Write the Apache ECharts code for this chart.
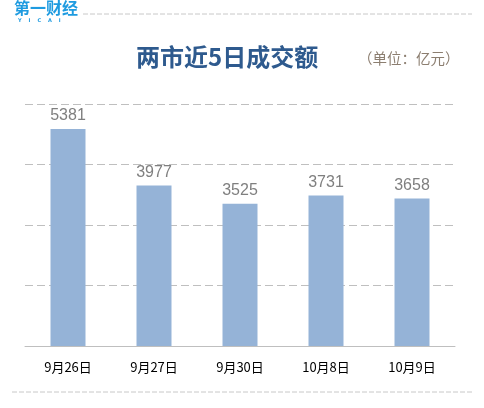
<!DOCTYPE html>
<html>
<head>
<meta charset="utf-8">
<script src="https://cdn.jsdelivr.net/npm/echarts@6/dist/echarts.min.js"></script>
<style>
  html, body { margin: 0; padding: 0; background: #fff; }
  #chart { width: 484px; height: 408px; }
</style>
</head>
<body>
<div id="chart"></div>
<script>
// data
var days = ['9月26日', '9月27日', '9月30日', '10月8日', '10月9日'];
var turnover = [5381, 3977, 3525, 3731, 3658];

var chart = echarts.init(document.getElementById('chart'));

var option = {
  backgroundColor: '#fff',
  animation: false,
  grid: { left: 25, right: 29, top: 104, bottom: 62 },
  xAxis: {
    type: 'category',
    data: days,
    axisLine: { lineStyle: { color: '#bfbfbf', width: 1 } },
    axisTick: { show: false },
    axisLabel: {
      color: '#000',
      fontSize: 13,
      margin: 15,
      fontFamily: 'Noto Sans CJK SC'
    }
  },
  yAxis: {
    type: 'value',
    min: 0,
    max: 6000,
    interval: 1500,
    axisLabel: { show: false },
    axisLine: { show: false },
    axisTick: { show: false },
    splitLine: {
      lineStyle: { color: '#bfbfbf', type: [8, 4], width: 1 }
    }
  },
  series: [
    {
      type: 'bar',
      data: turnover,
      barWidth: 35,
      itemStyle: { color: '#95b3d7' },
      label: {
        show: true,
        position: 'top',
        distance: 5,
        color: '#7f7f7f',
        fontSize: 16,
        fontFamily: 'Liberation Sans'
      }
    }
  ],
  graphic: [
    // logo
    {
      type: 'text', left: 14, top: 0,
      style: {
        text: '第一财经', fill: '#1e9be0',
        font: 'bold 16px "Noto Sans CJK SC"'
      }
    },
    {
      type: 'text', left: 18, top: 18,
      style: {
        text: 'Y    I    C    A    I', fill: '#1e9be0',
        font: 'bold 5px "DejaVu Sans"'
      }
    },
    {
      type: 'line',
      shape: { x1: 83, y1: 14, x2: 472, y2: 14 },
      style: { stroke: '#c8c8c8', lineWidth: 1, lineDash: [5, 2] }
    },
    // title
    {
      type: 'text', left: 136, top: 45,
      style: {
        text: '两市近5日成交额', fill: '#2e5a8e',
        font: 'bold 24px "Noto Sans CJK SC"'
      }
    },
    {
      type: 'text', left: 358, top: 51,
      style: {
        text: '（单位：亿元）', fill: '#8c7e70',
        font: '14.5px "Noto Sans CJK SC"'
      }
    },
    {
      type: 'line',
      shape: { x1: 12, y1: 392, x2: 472, y2: 392 },
      style: { stroke: '#c8c8c8', lineWidth: 1, lineDash: [5, 2] }
    }
  ]
};

chart.setOption(option);
</script>
</body>
</html>
